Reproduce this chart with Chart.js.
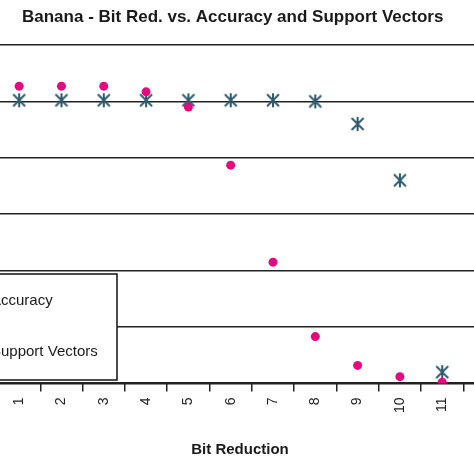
<!DOCTYPE html>
<html><head><meta charset="utf-8">
<script src="https://cdn.jsdelivr.net/npm/chart.js@4"></script>
<style>html,body{margin:0;padding:0;background:#fff;overflow:hidden;width:474px;height:474px}
#wrap{position:absolute;left:-60px;top:0;width:560px;height:474px}</style>
</head><body><div id="wrap"><canvas id="c"></canvas></div>
<script>
const bitReduction = [1,2,3,4,5,6,7,8,9,10,11];
const accuracy = [5.27,5.27,5.27,5.17,4.90,3.87,2.15,0.83,0.32,0.12,0.02];
const supportVectors = [5.02,5.02,5.02,5.02,5.02,5.02,5.02,5.0,4.60,3.60,0.20];
const titleText = 'Banana - Bit Red. vs. Accuracy and Support Vectors';
const legendLabels = ['Accuracy','Support Vectors'];

const star = document.createElement('canvas');
star.width = 16; star.height = 16;
(function(){const g=star.getContext('2d');g.strokeStyle='#2e5a6e';g.lineWidth=2;g.lineCap='butt';
g.beginPath();g.moveTo(2,2);g.lineTo(14,14);g.moveTo(14,2);g.lineTo(2,14);g.moveTo(8,1);g.lineTo(8,15);g.stroke();})();

const OFF = 60;
const deco = {id:'deco',
 afterDraw(ch){const g=ch.ctx;g.save();
  g.fillStyle='#1a1a1a';g.font='bold 17px "Liberation Sans", Arial, sans-serif';g.textBaseline='middle';g.textAlign='left';
  g.fillText(titleText,22+OFF,17);
  g.fillStyle='#fff';g.fillRect(-10+OFF,274,127,106);
  g.strokeStyle='#111';g.lineWidth=1.5;g.strokeRect(-10+OFF,274,127,106);
  g.fillStyle='#1a1a1a';g.font='15px "Liberation Sans", Arial, sans-serif';
  g.fillText(legendLabels[0],-9+OFF,301);g.fillText(legendLabels[1],-9+OFF,352);
  g.restore();}};

new Chart(document.getElementById('c'),{
 type:'scatter',
 data:{datasets:[
  {label:legendLabels[0],data:bitReduction.map((x,i)=>({x,y:accuracy[i]})),pointStyle:'circle',pointRadius:4.5,backgroundColor:'#e5097f',borderColor:'#e5097f',borderWidth:0},
  {label:legendLabels[1],data:bitReduction.map((x,i)=>({x,y:supportVectors[i]})),pointStyle:star,pointRadius:8}
 ]},
 options:{responsive:true,maintainAspectRatio:false,animation:false,
  layout:{padding:{left:58,right:18,top:45,bottom:0}},
  plugins:{legend:{display:false},tooltip:{enabled:false}},
  scales:{
   x:{type:'linear',min:0.5,max:11.94,
    afterBuildTicks:s=>{s.ticks=bitReduction.map(v=>({value:v}));},
    grid:{offset:true,drawOnChartArea:false,drawTicks:true,tickLength:8,color:'#222',lineWidth:1.5},
    border:{display:true,color:'#222',width:2},
    ticks:{minRotation:90,maxRotation:90,padding:6,color:'#222',font:{size:14,family:'"Liberation Sans", Arial'},callback:v=>String(v)},
    title:{display:true,text:'Bit Reduction',color:'#1a1a1a',font:{size:15,weight:'bold',family:'"Liberation Sans", Arial'},padding:{top:22,bottom:15}}},
   y:{min:0,max:6,ticks:{display:false,stepSize:1},
    grid:{color:'#222',lineWidth:1.5,drawTicks:false},border:{display:false}}
  }}
 ,plugins:[deco]});
</script></body></html>
